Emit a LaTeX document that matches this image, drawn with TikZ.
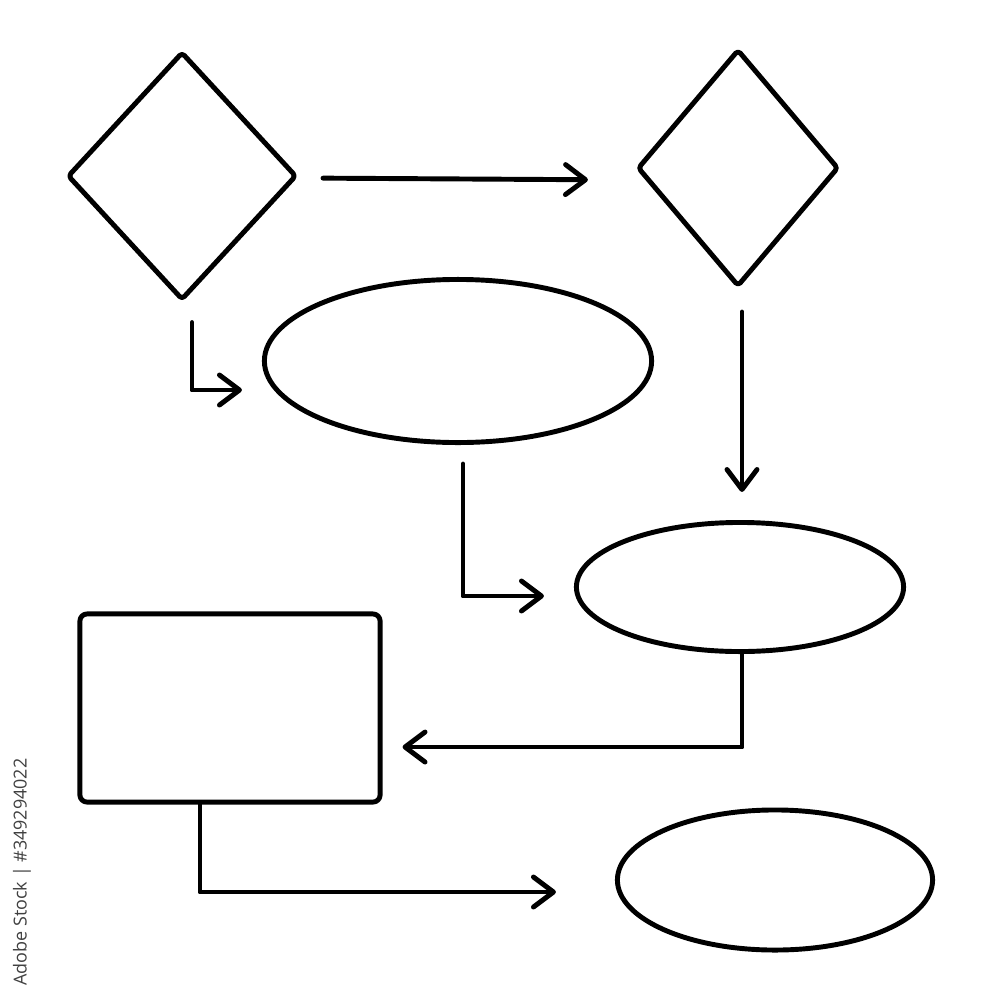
\documentclass[tikz,border=0pt]{standalone}
\usepackage{fontspec}
\newfontfamily\stockfont{Open Sans}
\usetikzlibrary{arrows.meta, shapes.geometric}

\begin{document}
\begin{tikzpicture}[
    x=0.01cm, y=-0.01cm,
    line width=1.4pt,
    line cap=round,
    line join=round,
    decision/.style={
        diamond,
        draw,
        rounded corners=1pt,
        inner sep=0pt
    },
    blob/.style={
        ellipse,
        draw,
        inner sep=0pt
    },
    box/.style={
        rectangle,
        draw,
        rounded corners=2pt,
        inner sep=0pt,
        minimum width=3cm,
        minimum height=1.88cm
    },
    >={Straight Barb[length=2mm, width=3mm, round]}
]

\useasboundingbox (0,0) rectangle (1000,1000);

% shapes
\node[decision, minimum width=2.29cm, minimum height=2.48cm] (ask) at (182,176) {};
\node[decision, minimum width=2.01cm, minimum height=2.37cm] (check) at (738,168) {};
\node[blob, minimum width=3.87cm, minimum height=1.63cm] (task) at (458,361) {};
\node[blob, minimum width=3.27cm, minimum height=1.29cm] (merge) at (740,587) {};
\node[box] (result) at (230,708) {};
\node[blob, minimum width=3.15cm, minimum height=1.40cm] (finish) at (775,880) {};

% stock id
\node[rotate=90, text=black!75, font=\stockfont\fontsize{5.1}{6}\selectfont] (stockid) at (22,872) {Adobe Stock | \#349294022};

% arrows
\draw[->, shorten <=0.24cm, shorten >=0.47cm] ([yshift=-0.02cm]ask.east) -- ([yshift=-0.12cm]check.west);
\draw[->, shorten <=0.2cm, shorten >=0.2cm] ([xshift=0.1cm]ask.south) |- ([yshift=-0.29cm]task.west);
\draw[->, shorten <=0.23cm, shorten >=0.28cm] ([xshift=0.04cm]check.south) -- ([xshift=0.04cm]check.south |- merge.north);
\draw[->, shorten <=0.19cm, shorten >=0.3cm] ([xshift=0.05cm]task.south) |- ([yshift=-0.09cm]merge.west);
\draw[->, shorten >=0.2cm] ([xshift=0.02cm]merge.south) |- ([yshift=-0.39cm]result.east);
\draw[->, shorten >=0.59cm] ([xshift=-0.3cm]result.south) |- ([yshift=-0.12cm]finish.west);

\end{tikzpicture}
\end{document}
